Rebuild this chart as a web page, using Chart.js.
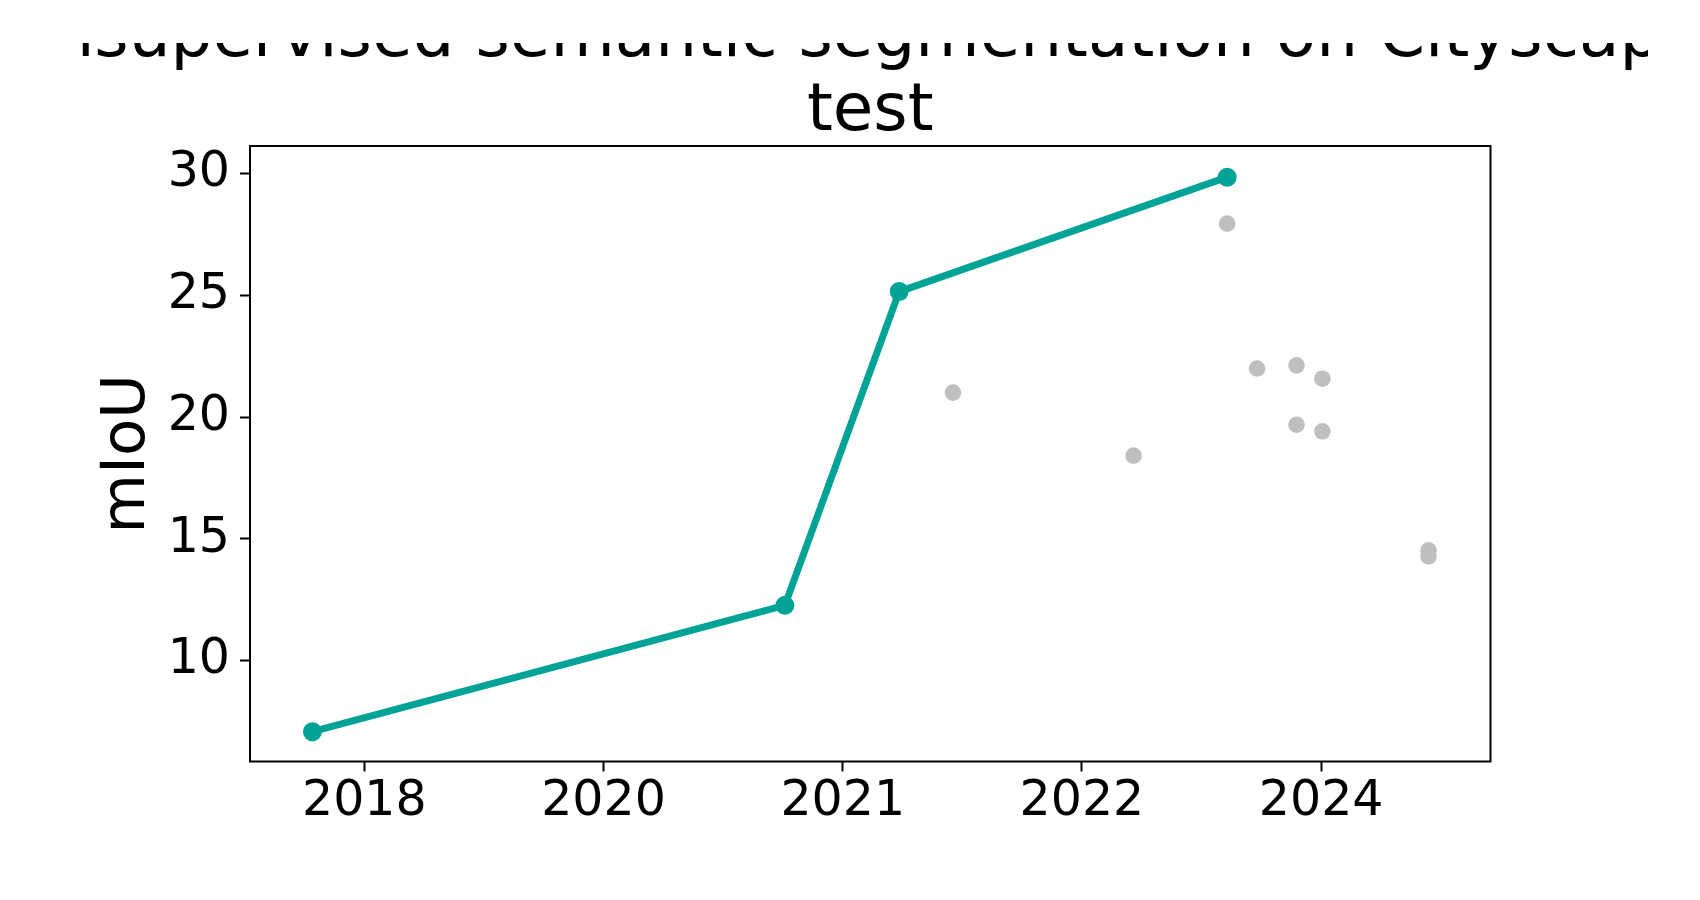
<!DOCTYPE html>
<html>
<head>
<meta charset="utf-8">
<script src="https://cdn.jsdelivr.net/npm/chart.js@4"></script>
<style>
  html, body { margin: 0; padding: 0; background: #fff; }
  body { width: 1700px; height: 900px; position: relative; overflow: hidden; }
  #chart { position: absolute; left: 65px; top: 43px; }
</style>
</head>
<body>
<canvas id="chart" width="1583" height="857"></canvas>
<script>
// --- DATA ---
const titleLines = ['Unsupervised semantic segmentation on Cityscapes', 'test'];
const yLabel = 'mIoU';
const xTickLabels = ['2018', '2020', '2021', '2022', '2024'];
const yTicks = [10, 15, 20, 25, 30];

// state-of-the-art line (x in tick-slot units)
const sotaX = [-0.217, 1.758, 2.236, 3.607];
const sotaY = [7.08, 12.27, 25.16, 29.86];

// other results
const otherX = [3.607, 2.461, 3.216, 3.732, 3.897, 4.005, 3.897, 4.005, 4.449, 4.449];
const otherY = [27.95, 21.01, 18.42, 22.0, 22.13, 21.58, 19.69, 19.42, 14.53, 14.28];

const FONT = "'DejaVu Sans', sans-serif";

// Title centred over the plot area, like matplotlib
const titlePlugin = {
    id: 'axesTitle',
    afterDraw(chart) {
        const ctx = chart.ctx;
        const area = chart.chartArea;
        const cx = (area.left + area.right) / 2;
        ctx.save();
        ctx.fillStyle = '#000';
        ctx.font = '66px ' + FONT;
        ctx.textAlign = 'center';
        ctx.textBaseline = 'alphabetic';
        ctx.fillText(titleLines[0], cx, 13);
        ctx.fillText(titleLines[1], cx, 87);
        ctx.restore();
    }
};

// Box round the plot area
const framePlugin = {
    id: 'frame',
    afterDraw(chart) {
        const ctx = chart.ctx;
        const a = chart.chartArea;
        ctx.save();
        ctx.strokeStyle = '#000';
        ctx.lineWidth = 2;
        ctx.strokeRect(a.left, a.top, a.right - a.left, a.bottom - a.top);
        ctx.restore();
    }
};

const ctx = document.getElementById('chart').getContext('2d');
new Chart(ctx, {
    type: 'scatter',
    data: {
        datasets: [
            {
                data: sotaX.map((x, i) => ({ x, y: sotaY[i] })),
                showLine: true,
                borderColor: '#00a396',
                backgroundColor: '#00a396',
                borderWidth: 7,
                pointRadius: 9.5,
                pointBorderWidth: 0,
                pointHoverRadius: 9.5
            },
            {
                data: otherX.map((x, i) => ({ x, y: otherY[i] })),
                showLine: false,
                backgroundColor: '#bfbfbf',
                borderColor: '#bfbfbf',
                pointRadius: 8.3,
                pointBorderWidth: 0,
                pointHoverRadius: 8.3
            }
        ]
    },
    options: {
        responsive: false,
        animation: false,
        layout: {
            autoPadding: false,
            padding: { top: 103, right: 157.5, bottom: 0, left: 0 }
        },
        plugins: {
            legend: { display: false },
            tooltip: { enabled: false },
            title: { display: false }
        },
        scales: {
            x: {
                type: 'linear',
                min: -0.478,
                max: 4.708,
                afterFit: s => { s.height = 138.5; },
                afterBuildTicks: s => { s.ticks = xTickLabels.map((_, i) => ({ value: i })); },
                ticks: {
                    callback: v => xTickLabels[v],
                    color: '#000',
                    font: { family: FONT, size: 49, lineHeight: 1.2 },
                    padding: 1,
                    maxRotation: 0,
                    autoSkip: false
                },
                grid: {
                    drawOnChartArea: false,
                    drawTicks: true,
                    tickLength: 10,
                    tickWidth: 2,
                    tickColor: '#000'
                },
                border: { display: false }
            },
            y: {
                type: 'linear',
                min: 5.856,
                max: 31.14,
                afterFit: s => { s.width = 185; },
                afterBuildTicks: s => { s.ticks = yTicks.map(v => ({ value: v })); },
                ticks: {
                    color: '#000',
                    font: { family: FONT, size: 49, lineHeight: 1.2 },
                    padding: 10
                },
                grid: {
                    drawOnChartArea: false,
                    drawTicks: true,
                    tickLength: 10,
                    tickWidth: 2,
                    tickColor: '#000'
                },
                border: { display: false },
                title: {
                    display: true,
                    text: yLabel,
                    color: '#000',
                    font: { family: FONT, size: 61, lineHeight: 1.2 },
                    padding: { top: 27, bottom: 0 }
                }
            }
        }
    },
    plugins: [titlePlugin, framePlugin]
});
</script>
</body>
</html>
